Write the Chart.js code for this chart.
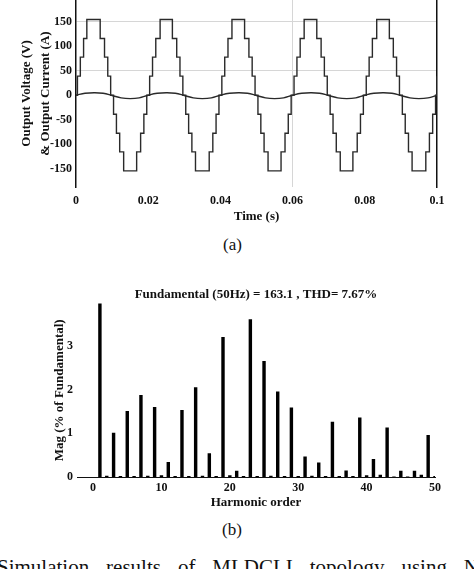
<!DOCTYPE html>
<html>
<head>
<meta charset="utf-8">
<script src="https://cdn.jsdelivr.net/npm/chart.js@4.4.1/dist/chart.umd.min.js"></script>
<style>
  body { margin: 0; width: 474px; height: 569px; overflow: hidden; background: #fff; position: relative; font-family: 'Liberation Serif', serif; }
  .box { position: absolute; left: 0; width: 474px; }
  .sub { position: absolute; font-size: 17px; line-height: 20px; color: #111; }
  #caption { position: absolute; left: -3px; top: 556px; width: 482px; font-size: 21px; line-height: 22px; color: #111; text-align: justify; text-align-last: justify; white-space: nowrap; }
</style>
</head>
<body>
<div class="box" style="top:0;height:225px"><canvas id="waveChart"></canvas></div>
<div class="sub" style="left:223px;top:235px">(a)</div>
<div class="box" style="top:280px;height:235px"><canvas id="harmChart"></canvas></div>
<div class="sub" style="left:222px;top:520px">(b)</div>
<div id="caption">Simulation results of MLDCLI topology using N</div>
<script>
//chart (a) - switching instants of the staircase output voltage (s)
const voltTimes = [
    0,
    0.0004, 0.0012, 0.0021, 0.0030, 0.0067, 0.0079, 0.0088, 0.0096,
    0.0104, 0.0112, 0.0121, 0.0132, 0.0168, 0.0179, 0.0188, 0.0196,
    0.0204, 0.0212, 0.0221, 0.0233, 0.0267, 0.0279, 0.0288, 0.0296,
    0.0304, 0.0312, 0.0321, 0.0331, 0.0369, 0.0379, 0.0388, 0.0396,
    0.0404, 0.0412, 0.0421, 0.0432, 0.0467, 0.0479, 0.0488, 0.0496,
    0.0504, 0.0512, 0.0521, 0.0532, 0.0568, 0.0579, 0.0588, 0.0596,
    0.0604, 0.0612, 0.0621, 0.0632, 0.0667, 0.0679, 0.0688, 0.0696,
    0.0704, 0.0712, 0.0721, 0.0732, 0.0767, 0.0779, 0.0788, 0.0796,
    0.0804, 0.0812, 0.0821, 0.0833, 0.0868, 0.0879, 0.0888, 0.0896,
    0.0904, 0.0912, 0.0921, 0.0931, 0.0969, 0.0979, 0.0988, 0.0996,
    0.1
]
//voltage level reached after each switching instant of one cycle (V)
const voltSteps = [39, 78, 116, 155, 116, 78, 39, 0, -39, -78, -116, -155, -116, -78, -39, 0]

//output current samples
const currTimes = [
    0, 0.0025, 0.005, 0.0075, 0.01, 0.0125, 0.015, 0.0175,
    0.02, 0.0225, 0.025, 0.0275, 0.03, 0.0325, 0.035, 0.0375,
    0.04, 0.0425, 0.045, 0.0475, 0.05, 0.0525, 0.055, 0.0575,
    0.06, 0.0625, 0.065, 0.0675, 0.07, 0.0725, 0.075, 0.0775,
    0.08, 0.0825, 0.085, 0.0875, 0.09, 0.0925, 0.095, 0.0975, 0.1
]
const currValues = [
    0, 4, 5, 4, -0.5, -5.5, -7, -5.5,
    0, 4, 5, 4, -0.5, -5.5, -7, -5.5,
    0, 4, 5, 4, -0.5, -5.5, -7, -5.5,
    0, 4, 5, 4, -0.5, -5.5, -7, -5.5,
    0, 4, 5, 4, -0.5, -5.5, -7, -5.5, 0
]

const timeTicks = [0, 0.02, 0.04, 0.06, 0.08, 0.1]
const waveTicks = [-150, -100, -50, 0, 50, 100, 150]
const waveGrid = [50, 150]

//chart (b) - harmonic spectrum, % of fundamental
const harmOrder = [
    0, 1, 2, 3, 4, 5, 6, 7, 8, 9, 10, 11, 12, 13, 14, 15, 16, 17, 18, 19, 20, 21, 22, 23, 24, 25,
    26, 27, 28, 29, 30, 31, 32, 33, 34, 35, 36, 37, 38, 39, 40, 41, 42, 43, 44, 45, 46, 47, 48, 49, 50
]
const harmMag = [
    0, 100, 0.03, 1.01, 0.02, 1.51, 0.02, 1.87, 0.03, 1.60, 0.04, 0.34, 0.02, 1.53, 0.02, 2.05, 0.03,
    0.54, 0.02, 3.20, 0.04, 0.14, 0.02, 3.60, 0.02, 2.65, 0.03, 1.95, 0.02, 1.59, 0.02, 0.47, 0.03,
    0.33, 0.02, 1.26, 0.02, 0.15, 0.02, 1.36, 0.04, 0.41, 0.05, 1.13, 0.01, 0.14, 0.01, 0.14, 0.05, 0.96, 0.02
]
const harmTicks = [0, 10, 20, 30, 40, 50]
const magTicks = [0, 1, 2, 3]

const serif = 'Liberation Serif'
const tickFont = { family: serif, size: 12, weight: 'bold' }
const titleFont = { family: serif, size: 13, weight: 'bold' }
const ink = '#111'

//tables for the library
const voltPoints = voltTimes.map((t, i) => ({ x: t, y: i == 0 ? 0 : voltSteps[(i - 1) % voltSteps.length] }))
const currPoints = currTimes.map((t, i) => ({ x: t, y: currValues[i] }))
const harmPoints = harmOrder.map((h, i) => ({ x: h, y: harmMag[i] }))

const setTicks = arr => axis => { axis.ticks = arr.map(v => ({ value: v })) }

//force a fixed axis size and drop the label overhang padding
const fixSize = (key, size) => axis => {
    axis[key] = size
    axis.paddingTop = 0
    axis.paddingBottom = 0
    axis.paddingLeft = 0
    axis.paddingRight = 0
}

new Chart(document.getElementById('waveChart'), {
    type: 'line',
    data: {
        datasets: [{
            label: 'Output Voltage (V)',
            data: voltPoints,
            stepped: true,
            borderColor: '#2a2a2a',
            borderWidth: 1.4,
            pointRadius: 0
        }, {
            label: 'Output Current (A)',
            data: currPoints,
            borderColor: '#2a2a2a',
            borderWidth: 1.4,
            pointRadius: 0,
            tension: 0.4
        }]
    },
    options: {
        animation: false,
        responsive: true,
        maintainAspectRatio: false,
        layout: { padding: { left: 0, right: 37, top: 0, bottom: 0 } },
        plugins: { legend: { display: false }, tooltip: { enabled: false } },
        scales: {
            x: {
                type: 'linear', min: 0, max: 0.1,
                afterBuildTicks: setTicks(timeTicks),
                afterFit: fixSize('height', 38),
                grid: { drawTicks: false, color: c => c.tick && c.tick.value === 0.06 ? '#d6d6d6' : 'rgba(0,0,0,0)' },
                border: { display: false },
                ticks: { padding: 7, color: ink, font: tickFont, maxRotation: 0, callback: v => String(v) },
                title: { display: true, text: 'Time (s)', color: ink, font: titleFont, padding: { top: 0, bottom: 1 } }
            },
            y: {
                min: -188, max: 195,
                afterBuildTicks: setTicks(waveTicks),
                afterFit: fixSize('width', 76),
                grid: { drawTicks: false, color: c => c.tick && waveGrid.includes(c.tick.value) ? '#d6d6d6' : 'rgba(0,0,0,0)' },
                border: { display: true, color: ink, width: 1.5 },
                ticks: { padding: 4, color: ink, font: tickFont },
                title: {
                    display: true,
                    text: ['Output Voltage (V)', '& Output Current (A)'],
                    color: ink,
                    font: { family: serif, size: 13, weight: 'bold', lineHeight: 1.4 },
                    padding: { top: 18, bottom: 0 }
                }
            },
            yRight: {
                position: 'right', min: -188, max: 195,
                afterFit: fixSize('width', 0),
                ticks: { display: false },
                grid: { display: false, drawTicks: false },
                border: { display: true, color: ink, width: 1.5 }
            }
        }
    }
})

new Chart(document.getElementById('harmChart'), {
    type: 'bar',
    data: {
        datasets: [{
            label: 'Mag',
            data: harmPoints,
            backgroundColor: '#000',
            borderWidth: 0,
            barPercentage: 0.5,
            categoryPercentage: 1
        }]
    },
    options: {
        animation: false,
        responsive: true,
        maintainAspectRatio: false,
        layout: { padding: { left: 0, right: 39, top: 0, bottom: 0 } },
        plugins: {
            legend: { display: false },
            tooltip: { enabled: false },
            title: {
                display: true,
                fullSize: false,
                text: 'Fundamental (50Hz) = 163.1 , THD= 7.67%',
                color: ink,
                font: titleFont,
                padding: { top: 7, bottom: 1 }
            }
        },
        scales: {
            x: {
                type: 'linear', min: -2.35, max: 50,
                offset: false,
                afterBuildTicks: setTicks(harmTicks),
                afterFit: fixSize('height', 38),
                grid: { display: false, drawTicks: false },
                border: { display: true, color: ink, width: 1 },
                ticks: { padding: 4, color: ink, font: tickFont, maxRotation: 0 },
                title: { display: true, text: 'Harmonic order', color: ink, font: titleFont, padding: { top: 0, bottom: 5 } }
            },
            y: {
                min: 0, max: 3.96,
                afterBuildTicks: setTicks(magTicks),
                afterFit: fixSize('width', 77),
                grid: { display: false, drawTicks: false },
                border: { display: false },
                ticks: { padding: 4, color: ink, font: tickFont },
                title: { display: true, text: 'Mag (% of Fundamental)', color: ink, font: titleFont, padding: { top: 52, bottom: 0 } }
            }
        }
    }
})
</script>
</body>
</html>
